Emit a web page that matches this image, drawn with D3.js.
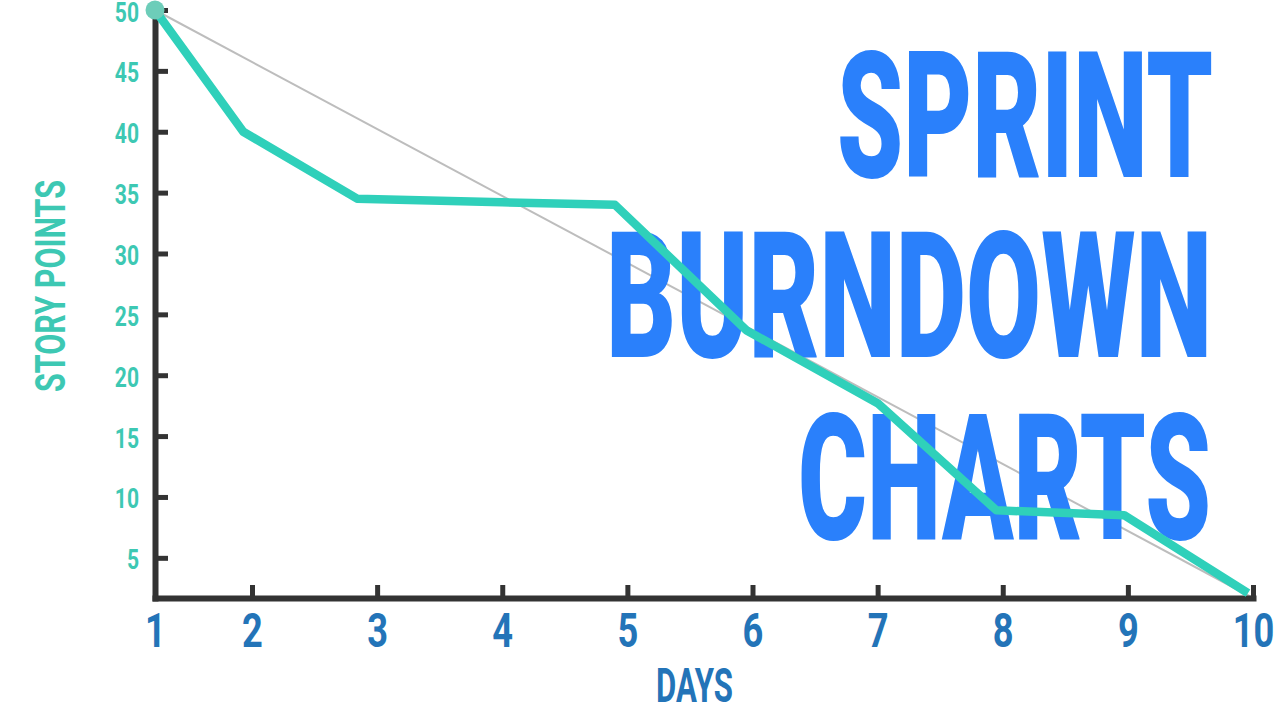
<!DOCTYPE html>
<html lang="en">
<head>
    <meta charset="UTF-8">
    <title>Sprint Burndown Charts</title>
    <script src="https://d3js.org/d3.v7.min.js"></script>
    <style>
        body { margin: 0; background: #fff; }
        text { font-family: Roboto, "Liberation Sans", sans-serif; font-weight: 700; }
    </style>
</head>
<body>
    <div id="chart"></div>

    <script>
        const width = 1280;
        const height = 720;

        const days = [1, 1.91, 2.84, 4, 4.9, 5.95, 7, 7.95, 8.97, 9.96];
        const storyPoints = [50, 40, 34.5, 34.2, 34, 23.7, 17.7, 8.9, 8.5, 2.1];

        // ideal burndown
        const idealDays = [1, 10];
        const idealPoints = [50, 1.7];

        const dayTicks = [1, 2, 3, 4, 5, 6, 7, 8, 9, 10];
        const pointTicks = [5, 10, 15, 20, 25, 30, 35, 40, 45, 50];

        const titleLines = ["SPRINT", "BURNDOWN", "CHARTS"];

        const colors = {
            axis: '#333333',
            line: '#2fd0ba',
            ideal: '#bdbdbd',
            dot: '#6dcdb9',
            yText: '#3dc8b3',
            xText: '#2374b8',
            title: '#2a80fb'
        };

        const svg = d3.select("#chart")
            .append("svg")
            .attr("width", width)
            .attr("height", height);

        // the day 1 -> 2 gap is shorter than the rest in the original
        const x = d3.scaleLinear()
            .domain([1, 2, 10])
            .range([155, 252, 1253]);

        const y = d3.scaleLinear()
            .domain([1.7, 50])
            .range([598, 10]);

        const line = d3.line()
            .x(d => x(d[0]))
            .y(d => y(d[1]));

        // ideal line sits behind everything
        svg.append("path")
            .datum(d3.zip(idealDays, idealPoints))
            .attr("d", line)
            .attr("fill", "none")
            .attr("stroke", colors.ideal)
            .attr("stroke-width", 2);

        // axes
        const xAxis = svg.append("g")
            .attr("transform", `translate(0,${y.range()[0]})`)
            .call(d3.axisBottom(x).tickValues(dayTicks).tickSize(-13).tickSizeOuter(0).tickFormat(d3.format("d")));

        const yAxis = svg.append("g")
            .attr("transform", `translate(${x(1)},0)`)
            .call(d3.axisLeft(y).tickValues(pointTicks).tickSize(-13).tickSizeOuter(0));

        [xAxis, yAxis].forEach(g => {
            g.select(".domain")
                .attr("stroke", colors.axis)
                .attr("stroke-width", 6)
                .attr("stroke-linecap", "square");
            g.selectAll(".tick line")
                .attr("stroke", colors.axis)
                .attr("stroke-width", 5);
        });

        xAxis.selectAll(".tick text")
            .attr("x", 0).attr("y", 0).attr("dy", null)
            .attr("transform", "translate(0,49) scale(0.74,1)")
            .attr("fill", colors.xText)
            .style("font-size", "49px");

        yAxis.selectAll(".tick text")
            .attr("x", 0).attr("dy", null)
            .attr("transform", "translate(-16,11) scale(0.78,1)")
            .attr("fill", colors.yText)
            .style("font-size", "27px");

        // axis titles
        svg.append("text")
            .attr("transform", "translate(65,286) rotate(-90)")
            .attr("text-anchor", "middle")
            .attr("textLength", 212)
            .attr("lengthAdjust", "spacingAndGlyphs")
            .attr("fill", colors.yText)
            .style("font-size", "42px")
            .text("STORY POINTS");

        svg.append("text")
            .attr("x", 656)
            .attr("y", 702)
            .attr("textLength", 77)
            .attr("lengthAdjust", "spacingAndGlyphs")
            .attr("fill", colors.xText)
            .style("font-size", "49px")
            .text("DAYS");

        // big title, line drawn over it
        const titleBox = [
            { left: 837, right: 1213, base: 177 },
            { left: 606, right: 1212, base: 357 },
            { left: 798, right: 1211, base: 539 }
        ];

        svg.append("g")
            .selectAll("text")
            .data(titleLines)
            .join("text")
            .attr("x", (d, i) => titleBox[i].left)
            .attr("y", (d, i) => titleBox[i].base)
            .attr("textLength", (d, i) => titleBox[i].right - titleBox[i].left)
            .attr("lengthAdjust", "spacingAndGlyphs")
            .attr("fill", colors.title)
            .style("font-weight", 900)
            .style("font-size", "177px")
            .text(d => d);

        svg.append("path")
            .datum(d3.zip(days, storyPoints))
            .attr("d", line)
            .attr("fill", "none")
            .attr("stroke", colors.line)
            .attr("stroke-width", 8.5)
            .attr("stroke-linejoin", "round");

        svg.append("circle")
            .attr("cx", x(days[0]))
            .attr("cy", y(storyPoints[0]))
            .attr("r", 9.5)
            .attr("fill", colors.dot);
    </script>
</body>
</html>
